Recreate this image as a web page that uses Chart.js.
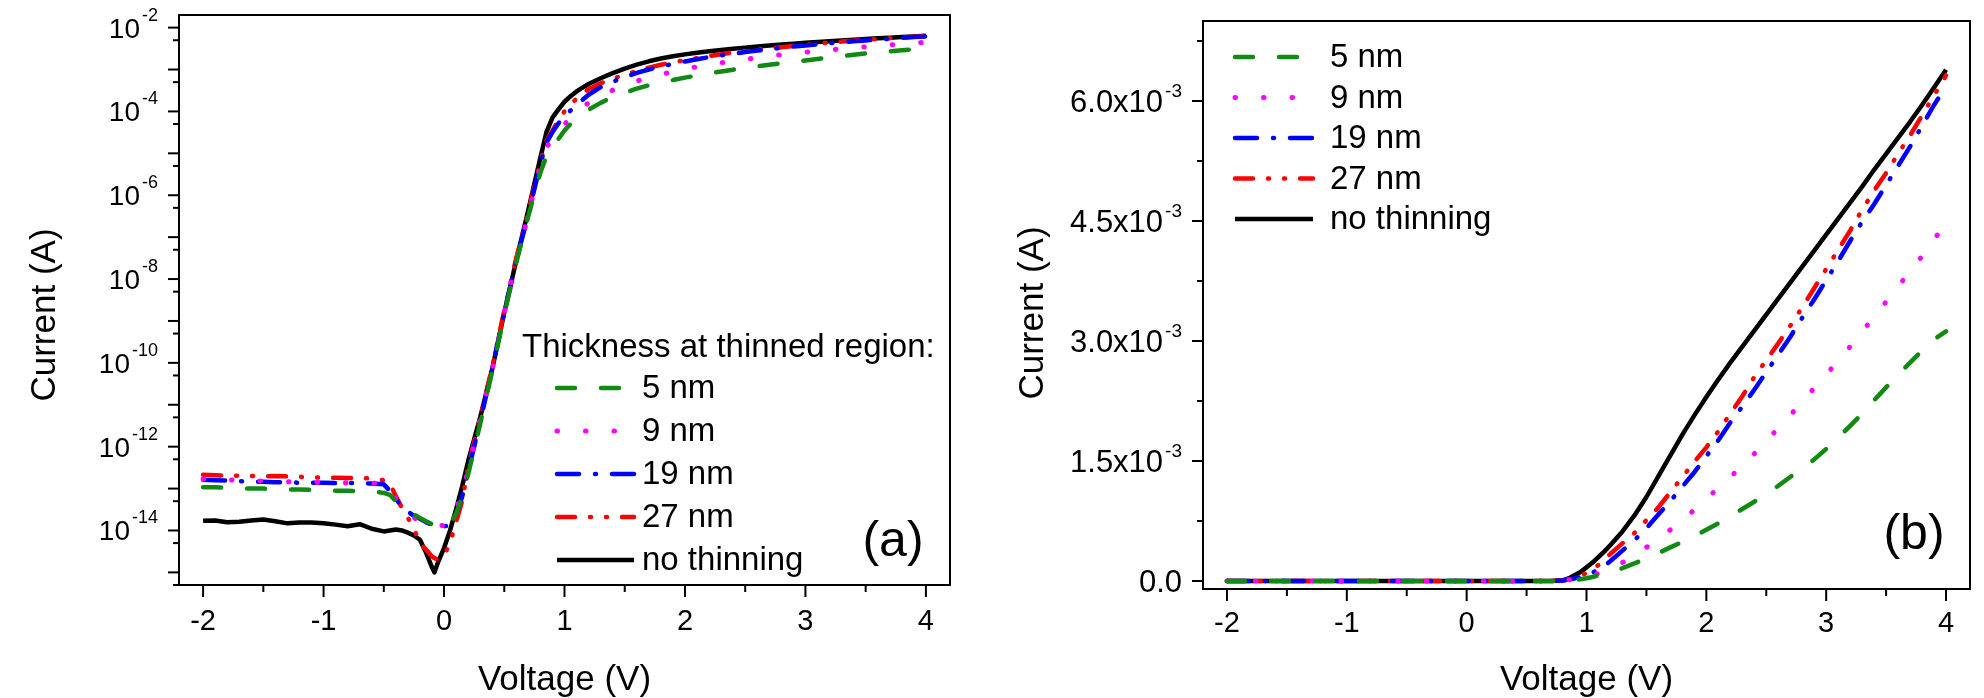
<!DOCTYPE html>
<html><head><meta charset="utf-8">
<script src="https://cdn.jsdelivr.net/npm/chart.js@4.4.1/dist/chart.umd.min.js"></script>
<style>
html,body{margin:0;padding:0;background:#fff;}
#wrap{position:relative;width:1984px;height:698px;overflow:hidden;background:#fff;}
canvas{position:absolute;top:0;}
#ca{left:0;} #cb{left:992px;}
</style></head><body>
<div id="wrap"><canvas id="ca" width="992" height="698"></canvas><canvas id="cb" width="992" height="698"></canvas></div>
<script>
// ---------------- data ----------------
const voltage = [-2.0,-1.9,-1.8,-1.7,-1.6,-1.5,-1.4,-1.3,-1.2,-1.1,-1.0,-0.9,-0.8,-0.7,-0.6,
 -0.5,-0.45,-0.4,-0.35,-0.3,-0.25,-0.2,-0.15,-0.1,-0.08,-0.05,0,0.05,0.1,0.15,0.2,
 0.3,0.4,0.5,0.6,0.7,0.8,0.85,0.9,0.95,1.0,1.05,1.1,1.15,1.2,
 1.3,1.4,1.5,1.6,1.7,1.8,1.9,2.0,2.1,2.2,2.3,2.4,2.5,2.6,2.7,2.8,2.9,3.0,3.1,3.2,3.3,3.4,3.5,3.6,3.7,3.8,3.9,4.0];

const seriesLabels = ['5 nm','9 nm','19 nm','27 nm','no thinning'];

const current5nm = [1.07e-13,1.07e-13,1.05e-13,1.02e-13,1.0e-13,1.0e-13,9.8e-14,9.5e-14,9.5e-14,9.3e-14,9.1e-14,8.9e-14,8.9e-14,8.7e-14,8.5e-14,
 7.9e-14,7.1e-14,5.0e-14,3.8e-14,3.0e-14,2.4e-14,2.0e-14,1.66e-14,1.41e-14,1.35e-14,1.29e-14,1.26e-14,1.41e-14,2.5e-14,6.3e-14,2.2e-13,
 3.5e-12,6.3e-11,1.41e-9,2.5e-8,3.2e-7,3.5e-6,8.5e-6,1.41e-5,2.2e-5,3.5e-5,5.0e-5,7.0e-5,9.0e-5,1.1e-4,
 1.6e-4,2.2e-4,2.8e-4,3.5e-4,4.2e-4,4.9e-4,5.6e-4,6.4e-4,7.2e-4,8.1e-4,9.0e-4,9.9e-4,1.09e-3,1.19e-3,1.30e-3,1.40e-3,1.52e-3,1.65e-3,1.79e-3,1.94e-3,2.09e-3,2.26e-3,2.42e-3,2.58e-3,2.73e-3,2.88e-3,3.02e-3,3.12e-3];

const current9nm = [1.70e-13,1.66e-13,1.62e-13,1.58e-13,1.55e-13,1.51e-13,1.48e-13,1.45e-13,1.45e-13,1.41e-13,1.41e-13,1.38e-13,1.38e-13,1.38e-13,1.35e-13,
 1.3e-13,1.0e-13,5.5e-14,3.5e-14,2.5e-14,2.0e-14,1.74e-14,1.51e-14,1.35e-14,1.32e-14,1.29e-14,1.32e-14,1.58e-14,3.2e-14,7.9e-14,2.8e-13,
 4.5e-12,7.1e-11,1.58e-9,2.8e-8,3.5e-7,5.0e-6,1.41e-5,2.1e-5,3.3e-5,5.0e-5,7.0e-5,9.5e-5,1.25e-4,1.6e-4,
 2.3e-4,3.2e-4,4.2e-4,5.3e-4,6.4e-4,7.6e-4,8.9e-4,1.03e-3,1.16e-3,1.30e-3,1.44e-3,1.59e-3,1.75e-3,1.91e-3,2.07e-3,2.25e-3,2.41e-3,2.58e-3,2.75e-3,2.93e-3,3.12e-3,3.30e-3,3.49e-3,3.68e-3,3.87e-3,4.06e-3,4.27e-3,4.47e-3];

const current19nm = [1.62e-13,1.58e-13,1.55e-13,1.51e-13,1.45e-13,1.45e-13,1.41e-13,1.41e-13,1.38e-13,1.38e-13,1.38e-13,1.35e-13,1.35e-13,1.35e-13,1.32e-13,
 1.26e-13,8.9e-14,5.6e-14,3.8e-14,2.8e-14,2.24e-14,1.9e-14,1.58e-14,1.38e-14,1.32e-14,1.29e-14,1.26e-14,1.32e-14,2.5e-14,6.3e-14,2.5e-13,
 4.0e-12,7.1e-11,1.58e-9,2.8e-8,3.5e-7,5.6e-6,1.78e-5,3.2e-5,5.2e-5,7.9e-5,1.05e-4,1.4e-4,1.9e-4,2.5e-4,
 3.8e-4,5.1e-4,6.6e-4,8.3e-4,1.00e-3,1.18e-3,1.36e-3,1.56e-3,1.76e-3,1.98e-3,2.18e-3,2.39e-3,2.61e-3,2.83e-3,3.05e-3,3.29e-3,3.52e-3,3.76e-3,4.00e-3,4.25e-3,4.49e-3,4.71e-3,4.95e-3,5.19e-3,5.43e-3,5.69e-3,5.95e-3,6.18e-3];

const current27nm = [2.14e-13,2.09e-13,2.0e-13,2.04e-13,2.0e-13,1.95e-13,2.0e-13,1.95e-13,1.91e-13,1.86e-13,1.82e-13,1.82e-13,1.78e-13,1.78e-13,1.74e-13,
 1.58e-13,1.35e-13,6.5e-14,3.5e-14,2.0e-14,1.1e-14,5.0e-15,3.5e-15,2.4e-15,2.2e-15,2.0e-15,2.5e-15,5.0e-15,1.58e-14,5.0e-14,3.2e-13,
 5.0e-12,7.9e-11,1.78e-9,3.2e-8,4.0e-7,6.3e-6,2.0e-5,3.5e-5,6.3e-5,1.0e-4,1.5e-4,2.0e-4,2.7e-4,3.4e-4,
 4.7e-4,6.0e-4,7.6e-4,9.2e-4,1.11e-3,1.30e-3,1.49e-3,1.67e-3,1.87e-3,2.09e-3,2.31e-3,2.55e-3,2.76e-3,2.97e-3,3.19e-3,3.42e-3,3.66e-3,3.90e-3,4.14e-3,4.38e-3,4.64e-3,4.88e-3,5.10e-3,5.34e-3,5.57e-3,5.82e-3,6.07e-3,6.32e-3];

const currentNoThinning = [1.70e-14,1.74e-14,1.58e-14,1.62e-14,1.74e-14,1.82e-14,1.66e-14,1.48e-14,1.55e-14,1.55e-14,1.48e-14,1.38e-14,1.26e-14,1.41e-14,1.1e-14,
 9.5e-15,1.0e-14,1.05e-14,1.0e-14,8.9e-15,7.6e-15,6.0e-15,3.0e-15,1.32e-15,1.0e-15,1.74e-15,3.8e-15,1.0e-14,3.2e-14,1.12e-13,4.5e-13,
 5.0e-12,7.1e-11,1.58e-9,2.8e-8,4.5e-7,7.9e-6,3.2e-5,7.1e-5,1.12e-4,1.7e-4,2.3e-4,3.0e-4,3.7e-4,4.5e-4,
 6.2e-4,8.2e-4,1.05e-3,1.31e-3,1.57e-3,1.83e-3,2.07e-3,2.30e-3,2.52e-3,2.73e-3,2.93e-3,3.13e-3,3.33e-3,3.53e-3,3.73e-3,3.93e-3,4.13e-3,4.33e-3,4.53e-3,4.73e-3,4.93e-3,5.14e-3,5.34e-3,5.54e-3,5.74e-3,5.95e-3,6.17e-3,6.39e-3];

// ---------------- ticks ----------------
const xMajorTicks = [-2,-1,0,1,2,3,4];
const xMinorTicks = [-1.5,-0.5,0.5,1.5,2.5,3.5];
const logDecadeTicks = [1e-2,1e-3,1e-4,1e-5,1e-6,1e-7,1e-8,1e-9,1e-10,1e-11,1e-12,1e-13,1e-14,1e-15];
const logHalfTicks = [5e-3,5e-4,5e-5,5e-6,5e-7,5e-8,5e-9,5e-10,5e-11,5e-12,5e-13,5e-14,5e-15,5e-16];
const logLabelValues = [1e-2,1e-4,1e-6,1e-8,1e-10,1e-12,1e-14];
const logLabelBase = ['10','10','10','10','10','10','10'];
const logLabelExp = ['-2','-4','-6','-8','-10','-12','-14'];
const linMajorTicks = [0,1.5e-3,3.0e-3,4.5e-3,6.0e-3];
const linMinorTicks = [0.75e-3,2.25e-3,3.75e-3,5.25e-3,6.75e-3];
const linLabelBase = ['0.0','1.5x10','3.0x10','4.5x10','6.0x10'];
const linLabelExp = ['','-3','-3','-3','-3'];

// ---------------- styles ----------------
const FONT = "'Liberation Sans', Arial, sans-serif";
const seriesColors = ['#118a11','#ff00ff','#0000ff','#ff0000','#000000'];
const seriesDashes = [[18,26],[0.5,28],[22,16,1,16],[18,15,1,15,1,15],[]];
const seriesWidths = [4.5,5,4.5,4.5,4.5];
const seriesData = [current5nm,current9nm,current19nm,current27nm,currentNoThinning];

function buildDatasets(){
  return seriesData.map((arr,i)=>({
    label: seriesLabels[i],
    data: voltage.map((v,j)=>({x:v,y:arr[j]})),
    borderColor: seriesColors[i],
    backgroundColor: seriesColors[i],
    borderWidth: seriesWidths[i],
    borderDash: seriesDashes[i],
    borderCapStyle: i===4 ? 'butt' : 'round',
    borderJoinStyle: 'round',
    pointRadius: 0,
    fill: false,
    tension: 0
  }));
}

function makeDecor(cfg){
  return {
    id: 'decor_' + cfg.name,
    afterDatasetsDraw(chart){
      const ctx = chart.ctx, ca = chart.chartArea;
      const xs = chart.scales.x, ys = chart.scales.y;
      ctx.save();
      ctx.setLineDash([]);
      ctx.strokeStyle = '#000'; ctx.lineWidth = 2; ctx.lineCap = 'butt';
      ctx.strokeRect(ca.left, ca.top, ca.right - ca.left, ca.bottom - ca.top);
      const seg = (x1,y1,x2,y2)=>{ctx.beginPath();ctx.moveTo(x1,y1);ctx.lineTo(x2,y2);ctx.stroke();};
      xMajorTicks.forEach(v=>{const p = xs.getPixelForValue(v); seg(p, ca.bottom, p, ca.bottom + 12);});
      xMinorTicks.forEach(v=>{const p = xs.getPixelForValue(v); seg(p, ca.bottom, p, ca.bottom + 7);});
      cfg.yMajor.forEach(v=>{const p = ys.getPixelForValue(v); seg(ca.left - 11, p, ca.left, p);});
      cfg.yMinor.forEach(v=>{const p = ys.getPixelForValue(v); seg(ca.left - 6, p, ca.left, p);});
      // y tick labels with superscript exponents
      ctx.fillStyle = '#000';
      ctx.textAlign = 'right'; ctx.textBaseline = 'alphabetic';
      const xr = ca.left - 21;
      cfg.labelValues.forEach((v,i)=>{
        const p = ys.getPixelForValue(v);
        const exp = cfg.labelExp[i];
        let ew = 0;
        if (exp) {
          ctx.font = cfg.expSize + 'px ' + FONT;
          ew = ctx.measureText(exp).width;
          ctx.fillText(exp, xr, p + cfg.expDy);
        }
        ctx.font = cfg.baseSize + 'px ' + FONT;
        ctx.fillText(cfg.labelBase[i], exp ? xr - ew - 2 : xr, p + cfg.baseDy);
      });
      // y title
      ctx.save();
      ctx.translate(cfg.yTitleX, cfg.yTitleY);
      ctx.rotate(-Math.PI/2);
      ctx.font = '35px ' + FONT; ctx.textAlign = 'center'; ctx.textBaseline = 'middle';
      ctx.fillText('Current (A)', 0, 0);
      ctx.restore();
      // legend
      ctx.textAlign = 'left'; ctx.textBaseline = 'alphabetic';
      if (cfg.legendHeader) {
        ctx.font = '33px ' + FONT;
        ctx.fillText(cfg.legendHeader, cfg.headerX, cfg.headerY);
      }
      chart.data.datasets.forEach((ds,i)=>{
        const y = cfg.legendY0 + i * cfg.legendDy;
        ctx.save();
        ctx.strokeStyle = ds.borderColor; ctx.lineWidth = ds.borderWidth;
        ctx.setLineDash(ds.borderDash || []); ctx.lineCap = ds.borderCapStyle || 'butt';
        seg(cfg.legendX1, y, cfg.legendX2, y);
        ctx.restore();
        ctx.font = '33px ' + FONT; ctx.textBaseline = 'middle'; ctx.fillStyle = '#000';
        ctx.fillText(ds.label, cfg.legendTextX, y + 1);
      });
      // panel label
      ctx.font = '50px ' + FONT; ctx.textAlign = 'center'; ctx.textBaseline = 'middle';
      ctx.fillText(cfg.panel, cfg.panelX, cfg.panelY);
      ctx.restore();
    }
  };
}

function makeChart(id, yType, yMin, yMax, pad, yWidth, xHeight, xTickPad, decorCfg){
  return new Chart(document.getElementById(id), {
    type: 'line',
    data: { datasets: buildDatasets() },
    options: {
      responsive: false, animation: false, devicePixelRatio: 1,
      layout: { padding: pad },
      plugins: { legend: { display: false }, tooltip: { enabled: false } },
      elements: { point: { radius: 0 } },
      scales: {
        x: {
          type: 'linear', min: -2.2, max: 4.2,
          grid: { display: false, drawTicks: false }, border: { display: false },
          ticks: { color: '#000', font: { family: FONT, size: 29 }, padding: xTickPad, maxRotation: 0, autoSkip: false },
          afterBuildTicks: s => { s.ticks = xMajorTicks.map(v => ({ value: v })); },
          afterFit: s => { s.height = xHeight; },
          title: { display: true, text: 'Voltage (V)', color: '#000', font: { family: FONT, size: 35, lineHeight: 1 }, padding: 0 }
        },
        y: {
          type: yType, min: yMin, max: yMax,
          grid: { display: false, drawTicks: false }, border: { display: false },
          ticks: { display: false },
          afterFit: s => { s.width = yWidth; }
        }
      }
    },
    plugins: [makeDecor(decorCfg)]
  });
}

makeChart('ca', 'logarithmic', 5e-16, 2e-2, {left:0, top:15, right:42, bottom:0}, 179, 113, 20, {
  name: 'a', yMajor: logDecadeTicks, yMinor: logHalfTicks,
  labelValues: logLabelValues, labelBase: logLabelBase, labelExp: logLabelExp,
  baseSize: 28, baseDy: 10, expSize: 18, expDy: -7,
  yTitleX: 45, yTitleY: 315,
  legendHeader: 'Thickness at thinned region:', headerX: 522, headerY: 357,
  legendX1: 557, legendX2: 634, legendTextX: 642, legendY0: 388, legendDy: 43,
  panel: '(a)', panelX: 893, panelY: 542
});

makeChart('cb', 'linear', -1e-4, 7e-3, {left:0, top:21, right:14, bottom:0}, 211, 109, 18, {
  name: 'b', yMajor: linMajorTicks, yMinor: linMinorTicks,
  labelValues: linMajorTicks, labelBase: linLabelBase, labelExp: linLabelExp,
  baseSize: 31, baseDy: 11, expSize: 19, expDy: -4,
  yTitleX: 41, yTitleY: 313,
  legendHeader: '',
  legendX1: 243, legendX2: 321, legendTextX: 338, legendY0: 57, legendDy: 40.5,
  panel: '(b)', panelX: 922, panelY: 535
});
</script>
</body></html>
